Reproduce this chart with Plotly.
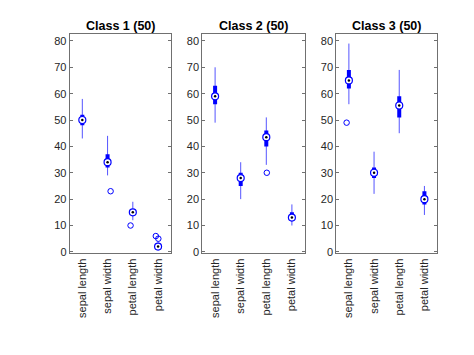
import plotly.graph_objects as go

categories = ["sepal length", "sepal width", "petal length", "petal width"]
class_titles = ["Class 1 (50)", "Class 2 (50)", "Class 3 (50)"]

medians = [[50, 34, 15, 2], [59, 28, 43.5, 13], [65, 30, 55.5, 20]]
q1s = [[48, 32, 14, 2], [56, 25, 40, 12], [62, 28, 51, 18]]
q3s = [[52, 37, 16, 3], [63, 30, 46, 15], [69, 32, 59, 23]]
whisker_lo = [[43, 29, 12, 1], [49, 20, 33, 10], [56, 22, 45, 14]]
whisker_hi = [[58, 44, 19, 4], [70, 34, 51, 18], [79, 38, 69, 25]]
outlier_vals = [[[], [23], [10], [6, 5]], [[], [], [30], []], [[49], [], [], []]]
outlier_jitter = [[[], [0.12], [-0.09], [-0.09, 0.01]], [[], [], [0.02], []], [[-0.09], [], [], []]]

BLUE = "#0000ff"
FONT = "Liberation Sans, Arial, sans-serif"
x_domains = [[61.7 / 474, 162.7 / 474], [194.3 / 474, 296.7 / 474], [328.3 / 474, 429 / 474]]
y_domain = [1 - 248.7 / 355, 1 - 26.7 / 355]

fig = go.Figure()
for c in range(3):
    xa = "x" if c == 0 else f"x{c+1}"
    ya = "y" if c == 0 else f"y{c+1}"
    pos = list(range(1, len(categories) + 1))
    wx, wy, bx, by = [], [], [], []
    for i, p in enumerate(pos):
        wx += [p, p, None]
        wy += [whisker_lo[c][i], whisker_hi[c][i], None]
        bx += [p, p, None]
        by += [q1s[c][i], q3s[c][i], None]
    fig.add_trace(go.Scatter(x=wx, y=wy, mode="lines", line=dict(color="#5555ff", width=1),
                             xaxis=xa, yaxis=ya, hoverinfo="skip"))
    fig.add_trace(go.Scatter(x=bx, y=by, mode="lines", line=dict(color=BLUE, width=4),
                             xaxis=xa, yaxis=ya, hoverinfo="skip"))
    ox, oy = [], []
    for i, p in enumerate(pos):
        for v, j in zip(outlier_vals[c][i], outlier_jitter[c][i]):
            ox.append(p + j)
            oy.append(v)
    fig.add_trace(go.Scatter(x=ox, y=oy, mode="markers",
                             marker=dict(symbol="circle-open", size=5.5, color=BLUE, line=dict(width=1)),
                             xaxis=xa, yaxis=ya))
    fig.add_trace(go.Scatter(x=pos, y=medians[c], mode="markers",
                             marker=dict(symbol="circle", size=7, color="white", line=dict(color=BLUE, width=1.2)),
                             xaxis=xa, yaxis=ya))
    fig.add_trace(go.Scatter(x=pos, y=medians[c], mode="markers",
                             marker=dict(symbol="circle", size=2.5, color="black"),
                             xaxis=xa, yaxis=ya))
    line_common = dict(showgrid=False, zeroline=False, showline=True, linecolor="#707070",
                       linewidth=1, tickcolor="#707070",
                       tickfont=dict(family=FONT, size=11, color="#262626"))
    fig.layout[("xaxis" if c == 0 else f"xaxis{c+1}")] = dict(
        domain=x_domains[c], range=[0.5, 4.5], tickvals=pos, ticktext=categories,
        tickangle=-90, anchor=ya, ticks="", mirror=True, **line_common)
    fig.layout[("yaxis" if c == 0 else f"yaxis{c+1}")] = dict(
        domain=y_domain, range=[-0.5, 82.5], tickvals=[0, 10, 20, 30, 40, 50, 60, 70, 80],
        anchor=xa, ticks="inside", ticklen=3, mirror="ticks", **line_common)
    fig.add_annotation(text="<b>" + class_titles[c] + "</b>", xref="paper", yref="paper",
                       x=sum(x_domains[c]) / 2, y=1 - 18 / 355, xanchor="center", yanchor="middle",
                       showarrow=False, font=dict(family=FONT, size=12.5, color="black"))

fig.update_layout(width=474, height=355, margin=dict(l=0, r=0, t=0, b=0),
                  showlegend=False, plot_bgcolor="white", paper_bgcolor="white")
fig.write_html("out.html")
